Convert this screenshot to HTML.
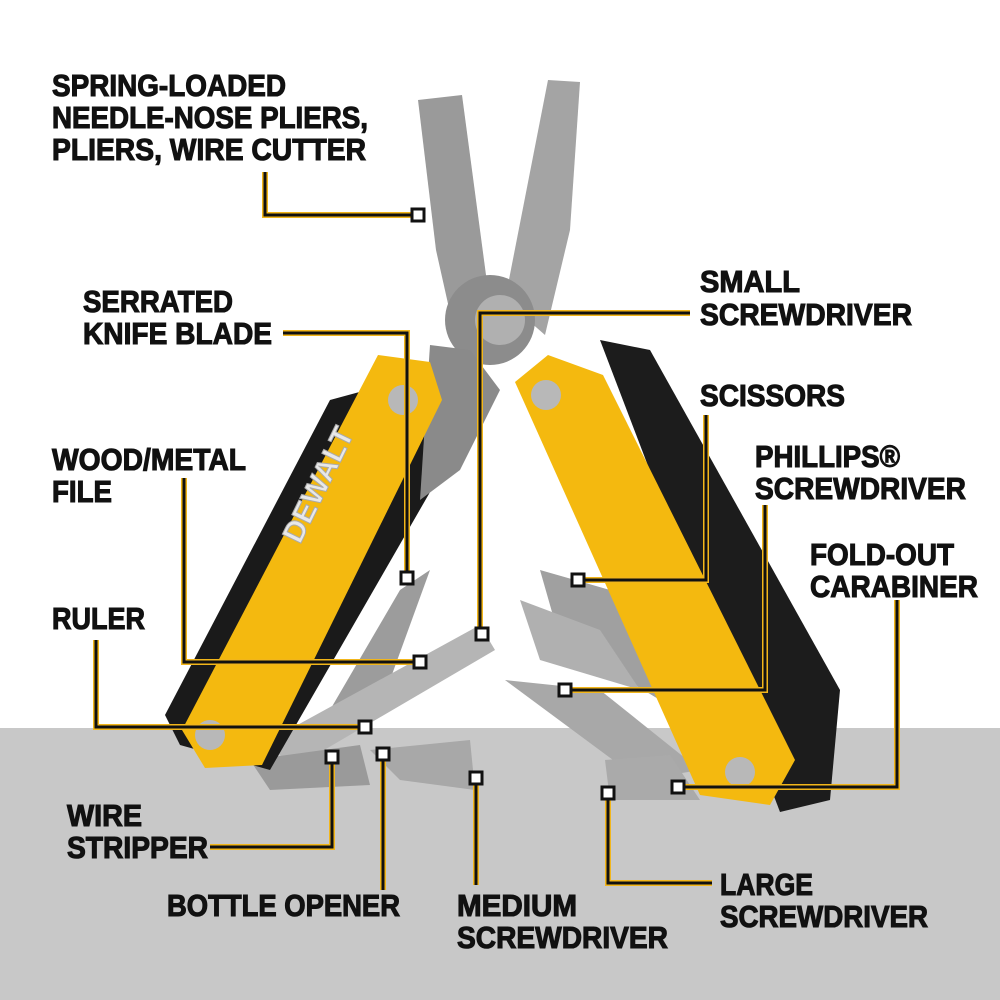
<!DOCTYPE html>
<html><head><meta charset="utf-8"><style>
html,body{margin:0;padding:0;background:#fff}
svg{display:block}
text{font-family:"Liberation Sans",sans-serif;font-weight:bold;font-size:31px;fill:#111;stroke:#111;stroke-width:1.1}
</style></head><body>
<svg width="1000" height="1000" viewBox="0 0 1000 1000">
<rect x="0" y="0" width="1000" height="1000" fill="#fff"/>
<rect x="0" y="728" width="1000" height="272" fill="#c8c8c8"/>

<!-- pliers jaws -->
<polygon points="418,100 462,95 488,290 455,335 436,250" fill="#9a9a9a"/>
<polygon points="548,80 580,82 570,230 545,335 505,300" fill="#a4a4a4"/>
<circle cx="490" cy="320" r="45" fill="#8c8c8c"/>
<circle cx="500" cy="320" r="25" fill="#b0b0b0"/>

<!-- blades middle -->
<polygon points="400,590 430,570 390,680 330,710" fill="#9c9c9c"/>
<polygon points="270,740 480,625 495,650 290,770" fill="#b5b5b5"/>
<polygon points="370,750 470,740 475,790 400,780" fill="#a8a8a8"/>
<polygon points="250,760 360,745 370,785 270,790" fill="#9a9a9a"/>
<polygon points="540,570 610,590 660,700 560,640" fill="#a0a0a0"/>
<polygon points="520,600 600,630 640,690 540,660" fill="#b0b0b0"/>
<polygon points="505,680 600,690 700,770 640,780" fill="#a8a8a8"/>
<polygon points="605,760 670,755 700,800 610,800" fill="#aaa"/>

<!-- left handle -->
<polygon points="330,400 440,370 460,440 270,770 180,745 165,715" fill="#1a1a1a"/>
<polygon points="430,345 470,350 500,390 460,470 420,500" fill="#8a8a8a"/>
<polygon points="378,355 430,362 442,400 262,765 205,768 182,730" fill="#f4b90f"/>
<circle cx="403" cy="400" r="15" fill="#b8b8b8"/>
<circle cx="210" cy="735" r="15" fill="#b8b8b8"/>
<text x="0" y="0" transform="translate(300,545) rotate(-64)" style="font-size:30px;fill:#e8e8e8;stroke:#aaa;stroke-width:1">DEWALT</text>

<!-- right handle -->
<polygon points="600,340 650,350 840,690 830,800 780,812" fill="#1c1c1c"/>
<polygon points="515,382 548,355 603,375 795,760 770,805 700,795" fill="#f4b90f"/>
<circle cx="546" cy="395" r="15" fill="#b8b8b8"/>
<circle cx="740" cy="772" r="15" fill="#b8b8b8"/>

<!-- callout lines -->
<g fill="none" stroke-linejoin="miter">
<g stroke="#f2b61b" stroke-width="6">
<polyline points="265,172 265,215 418,215"/>
<polyline points="283,333 407,333 407,578"/>
<polyline points="690,313 480,313 480,634"/>
<polyline points="706,415 706,580 578,580"/>
<polyline points="765,505 765,690 565,690"/>
<polyline points="897,600 897,787 678,787"/>
<polyline points="184,478 184,662 420,662"/>
<polyline points="96,640 96,727 365,727"/>
<polyline points="210,847 332,847 332,757"/>
<polyline points="383,754 383,890"/>
<polyline points="476,778 476,885"/>
<polyline points="608,793 608,883 712,883"/>
</g>
<g stroke="#111" stroke-width="3">
<polyline points="265,172 265,215 418,215"/>
<polyline points="283,333 407,333 407,578"/>
<polyline points="690,313 480,313 480,634"/>
<polyline points="706,415 706,580 578,580"/>
<polyline points="765,505 765,690 565,690"/>
<polyline points="897,600 897,787 678,787"/>
<polyline points="184,478 184,662 420,662"/>
<polyline points="96,640 96,727 365,727"/>
<polyline points="210,847 332,847 332,757"/>
<polyline points="383,754 383,890"/>
<polyline points="476,778 476,885"/>
<polyline points="608,793 608,883 712,883"/>
</g>
</g>
<g fill="#fff" stroke="#111" stroke-width="3">
<rect x="412" y="209" width="12" height="12"/>
<rect x="401" y="572" width="12" height="12"/>
<rect x="476" y="628" width="12" height="12"/>
<rect x="572" y="574" width="12" height="12"/>
<rect x="559" y="684" width="12" height="12"/>
<rect x="672" y="781" width="12" height="12"/>
<rect x="414" y="656" width="12" height="12"/>
<rect x="359" y="721" width="12" height="12"/>
<rect x="326" y="751" width="12" height="12"/>
<rect x="377" y="748" width="12" height="12"/>
<rect x="470" y="772" width="12" height="12"/>
<rect x="602" y="787" width="12" height="12"/>
</g>

<!-- labels -->
<g>
<text x="52" y="96" textLength="234" lengthAdjust="spacingAndGlyphs">SPRING-LOADED</text>
<text x="52" y="128" textLength="316" lengthAdjust="spacingAndGlyphs">NEEDLE-NOSE PLIERS,</text>
<text x="52" y="160" textLength="314" lengthAdjust="spacingAndGlyphs">PLIERS, WIRE CUTTER</text>
<text x="83" y="312" textLength="150" lengthAdjust="spacingAndGlyphs">SERRATED</text>
<text x="83" y="344" textLength="189" lengthAdjust="spacingAndGlyphs">KNIFE BLADE</text>
<text x="700" y="292" textLength="100" lengthAdjust="spacingAndGlyphs">SMALL</text>
<text x="700" y="325" textLength="212" lengthAdjust="spacingAndGlyphs">SCREWDRIVER</text>
<text x="700" y="406" textLength="145" lengthAdjust="spacingAndGlyphs">SCISSORS</text>
<text x="755" y="467" textLength="145" lengthAdjust="spacingAndGlyphs">PHILLIPS®</text>
<text x="755" y="499" textLength="211" lengthAdjust="spacingAndGlyphs">SCREWDRIVER</text>
<text x="810" y="565" textLength="144" lengthAdjust="spacingAndGlyphs">FOLD-OUT</text>
<text x="810" y="597" textLength="168" lengthAdjust="spacingAndGlyphs">CARABINER</text>
<text x="52" y="470" textLength="194" lengthAdjust="spacingAndGlyphs">WOOD/METAL</text>
<text x="52" y="502" textLength="60" lengthAdjust="spacingAndGlyphs">FILE</text>
<text x="52" y="629" textLength="93" lengthAdjust="spacingAndGlyphs">RULER</text>
<text x="67" y="826" textLength="75" lengthAdjust="spacingAndGlyphs">WIRE</text>
<text x="67" y="858" textLength="141" lengthAdjust="spacingAndGlyphs">STRIPPER</text>
<text x="167" y="916" textLength="233" lengthAdjust="spacingAndGlyphs">BOTTLE OPENER</text>
<text x="457" y="916" textLength="120" lengthAdjust="spacingAndGlyphs">MEDIUM</text>
<text x="457" y="948" textLength="211" lengthAdjust="spacingAndGlyphs">SCREWDRIVER</text>
<text x="720" y="895" textLength="93" lengthAdjust="spacingAndGlyphs">LARGE</text>
<text x="720" y="927" textLength="208" lengthAdjust="spacingAndGlyphs">SCREWDRIVER</text>
</g>
</svg>
</body></html>
